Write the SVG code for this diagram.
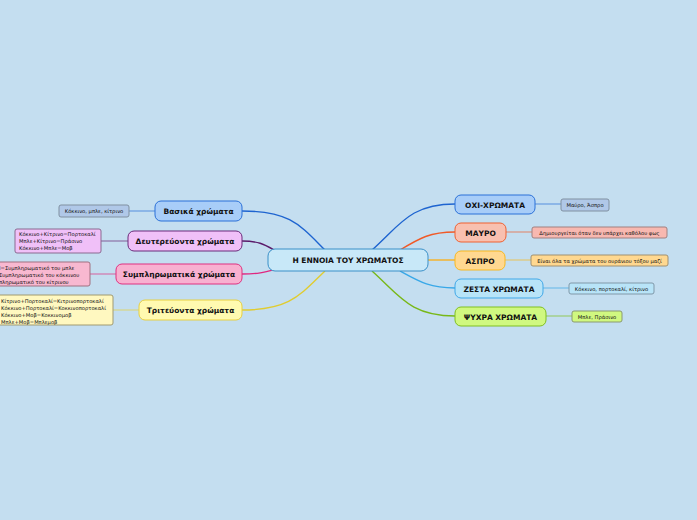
<svg xmlns="http://www.w3.org/2000/svg" width="697" height="520" viewBox="0 0 697 520">
<style>
text{font-family:"DejaVu Sans","Liberation Sans",sans-serif;fill:#111}
.m{font-size:7.5px;font-weight:bold;text-anchor:middle}
.l{font-size:5.2px}
.lc{font-size:5.2px;text-anchor:middle}
.c{fill:none;stroke-width:1.4}
.lk{fill:none;stroke-width:1.2;opacity:.6}
</style>
<rect width="697" height="520" fill="#c4def0"/>
<g id="connectors">
<path class="c" stroke="#1e64d0" d="M325 250 C300 225 290 211 242 211"/>
<path class="c" stroke="#5a1a6a" d="M278 252 C265 245 260 241 242 241"/>
<path class="c" stroke="#e02880" d="M280 268 C265 272 260 274 242 274"/>
<path class="c" stroke="#e0cc30" d="M325 271 C300 295 290 310 242 310"/>
<path class="c" stroke="#1e64d0" d="M372 250 C400 225 410 204 455 204"/>
<path class="c" stroke="#f05a28" d="M400 250 C420 238 430 232 455 232"/>
<path class="c" stroke="#f8b020" d="M428 260 C440 260 445 260 455 260"/>
<path class="c" stroke="#38a8e8" d="M400 271 C420 282 430 288 455 288"/>
<path class="c" stroke="#78b818" d="M372 271 C400 296 410 316 455 316"/>
<path class="lk" stroke="#2a70d8" d="M129 211 H155"/>
<path class="lk" stroke="#6a2a7a" d="M101 241 H128"/>
<path class="lk" stroke="#e03080" d="M90 274 H116"/>
<path class="lk" stroke="#e8d040" d="M113 310 H139"/>
<path class="lk" stroke="#2a70d8" d="M535 204 H561"/>
<path class="lk" stroke="#f06030" d="M506 232 H532"/>
<path class="lk" stroke="#f8b820" d="M505 260 H531"/>
<path class="lk" stroke="#40a8e8" d="M543 288 H569"/>
<path class="lk" stroke="#80c020" d="M546 316 H572"/>
</g>
<g id="center"><rect x="268" y="249" width="160" height="22" rx="7" fill="#c8e8f8" stroke="#3a90c8"/><text class="m" x="348" y="263">Η ΕΝΝΟΙΑ ΤΟΥ ΧΡΩΜΑΤΟΣ</text></g>
<g id="n-basika"><rect x="155" y="201" width="87" height="20" rx="6" fill="#a8cdf8" stroke="#2a70d8"/><text class="m" x="198.5" y="214">Βασικά χρώματα</text></g>
<g id="l-basika"><rect x="59" y="205" width="70" height="12" rx="2" fill="#b0c8e8" stroke="#8090a0"/><text class="lc" x="94" y="213">Κόκκινο, μπλε, κίτρινο</text></g>
<g id="n-deut"><rect x="128" y="231" width="114" height="20" rx="6" fill="#f0c0f8" stroke="#6a2a7a"/><text class="m" x="185" y="244">Δευτερεύοντα χρώματα</text></g>
<g id="l-deut"><rect x="15" y="229" width="86" height="24" rx="2" fill="#f0c0f8" stroke="#8a6a90"/><text class="l" x="19" y="236">Κόκκινο+Κίτρινο=Πορτοκαλί</text><text class="l" x="19" y="243">Μπλε+Κίτρινο=Πράσινο</text><text class="l" x="19" y="250">Κόκκινο+Μπλε=Μοβ</text></g>
<g id="n-sympl"><rect x="116" y="264" width="126" height="20" rx="6" fill="#f8b0d0" stroke="#e03080"/><text class="m" x="179" y="277">Συμπληρωματικά χρώματα</text></g>
<g id="l-sympl"><rect x="-5" y="262" width="95" height="24" rx="2" fill="#f8b8d0" stroke="#a07080"/><text class="l" x="-1" y="270">Ι=Συμπληρωματικό του μπλε</text><text class="l" x="-1" y="277">Συμπληρωματικό του κόκκινου</text><text class="l" x="-1" y="284">πληρωματικό του κίτρινου</text></g>
<g id="n-trit"><rect x="139" y="300" width="103" height="20" rx="6" fill="#fffab0" stroke="#e8d040"/><text class="m" x="190.5" y="313">Τριτεύοντα χρώματα</text></g>
<g id="l-trit"><rect x="-5" y="295" width="118" height="30" rx="2" fill="#fff8c0" stroke="#a09a70"/><text class="l" x="1" y="303">Κίτρινο+Πορτοκαλί=Κιτρινοπορτοκαλί</text><text class="l" x="1" y="310">Κόκκινο+Πορτοκαλί=Κοκκινοπορτοκαλί</text><text class="l" x="1" y="317">Κόκκινο+Μοβ=Κοκκινομοβ</text><text class="l" x="1" y="324">Μπλε+Μοβ=Μπλεμοβ</text></g>
<g id="n-oxi"><rect x="455" y="195" width="80" height="19" rx="6" fill="#a8cdf8" stroke="#2a70d8"/><text class="m" x="495" y="207.5">ΟΧΙ-ΧΡΩΜΑΤΑ</text></g>
<g id="l-oxi"><rect x="561" y="199" width="48" height="12" rx="2" fill="#b0c8e8" stroke="#8090a0"/><text class="lc" x="585" y="207">Μαύρο, Άσπρο</text></g>
<g id="n-mayro"><rect x="455" y="223" width="51" height="19" rx="6" fill="#f8c0b0" stroke="#f06030"/><text class="m" x="480.5" y="235.5">ΜΑΥΡΟ</text></g>
<g id="l-mayro"><rect x="532" y="227" width="135" height="11" rx="2" fill="#f8b8b0" stroke="#a08080"/><text class="lc" x="599.5" y="234.5">Δημιουργείται όταν δεν υπάρχει καθόλου φως</text></g>
<g id="n-aspro"><rect x="455" y="251" width="50" height="19" rx="6" fill="#ffd890" stroke="#f8b820"/><text class="m" x="480" y="263.5">ΑΣΠΡΟ</text></g>
<g id="l-aspro"><rect x="531" y="255" width="137" height="11" rx="2" fill="#ffd890" stroke="#a09070"/><text class="lc" x="599.5" y="262.5">Είναι όλα τα χρώματα του ουράνιου τόξου μαζί</text></g>
<g id="n-zesta"><rect x="455" y="279" width="88" height="19" rx="6" fill="#b8e4f8" stroke="#40a8e8"/><text class="m" x="499" y="291.5">ΖΕΣΤΑ ΧΡΩΜΑΤΑ</text></g>
<g id="l-zesta"><rect x="569" y="283" width="85" height="11" rx="2" fill="#b8e4f8" stroke="#8098a8"/><text class="lc" x="611.5" y="290.5">Κόκκινο, πορτοκαλί, κίτρινο</text></g>
<g id="n-psyxra"><rect x="455" y="307" width="91" height="19" rx="6" fill="#d0f880" stroke="#80c020"/><text class="m" x="500.5" y="319.5">ΨΥΧΡΑ ΧΡΩΜΑΤΑ</text></g>
<g id="l-psyxra"><rect x="572" y="311" width="50" height="11" rx="2" fill="#d0f880" stroke="#8a9a70"/><text class="lc" x="597" y="318.5">Μπλε, Πράσινο</text></g>
</svg>
